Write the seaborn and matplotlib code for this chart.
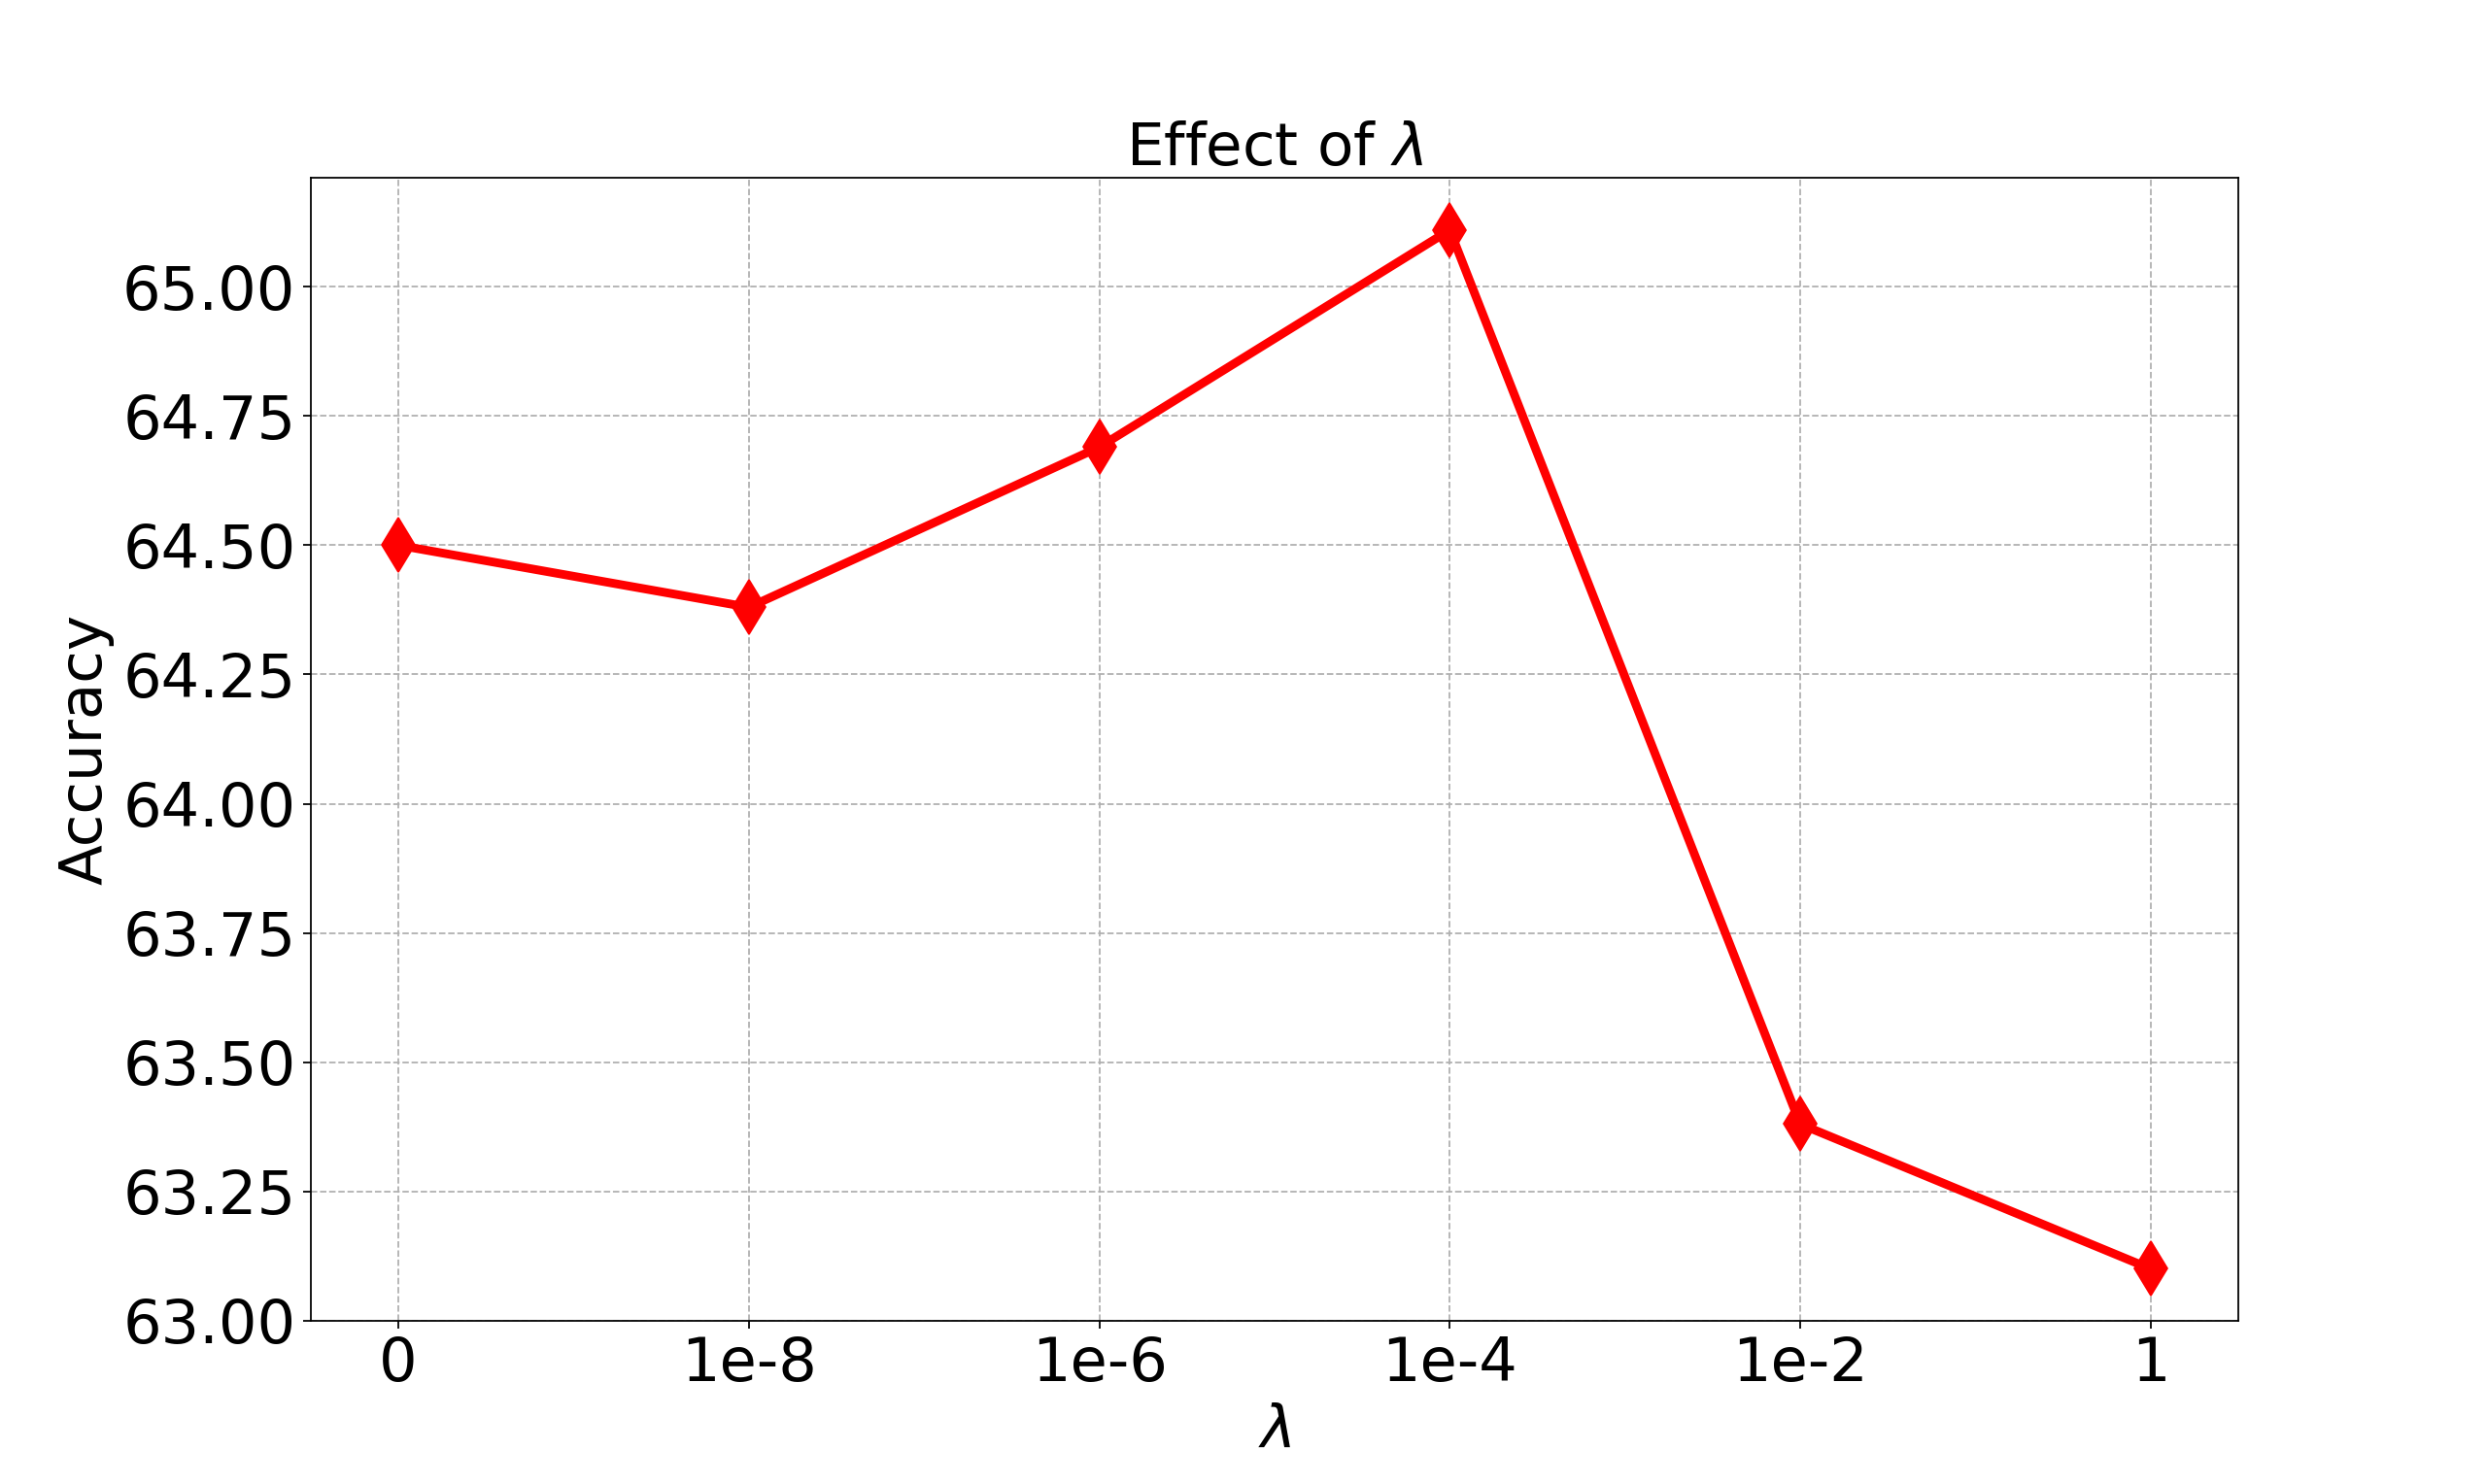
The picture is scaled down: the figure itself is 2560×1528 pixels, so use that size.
import matplotlib
matplotlib.use("Agg")
import matplotlib.pyplot as plt
import seaborn as sns
import pandas as pd

# Valores
lambdas = ['0', '1e-8', '1e-6', '1e-4', '1e-2', '1']
accuracy = [64.50, 64.38, 64.69, 65.11, 63.38, 63.10]

df = pd.DataFrame({'lambda': lambdas, 'Accuracy': accuracy})

plt.rcParams['font.family'] = ['DejaVu Sans']
plt.rcParams['font.size'] = 28

fig, ax = plt.subplots(figsize=(16, 9.55), dpi=160)
sns.lineplot(data=df, x='lambda', y='Accuracy', sort=False, color='red',
             linewidth=4, marker='d', markersize=18, markeredgecolor='red', ax=ax)

ax.grid(True, linestyle='--', color='#b0b0b0', linewidth=0.8)
ax.set_title(r'Effect of $\lambda$', fontsize=27.5)
ax.set_xlabel(r'$\lambda$', fontsize=27.5)
ax.set_ylabel('Accuracy', fontsize=27.5)
ax.tick_params(labelsize=28)

fig.savefig('out.png', dpi=160)
